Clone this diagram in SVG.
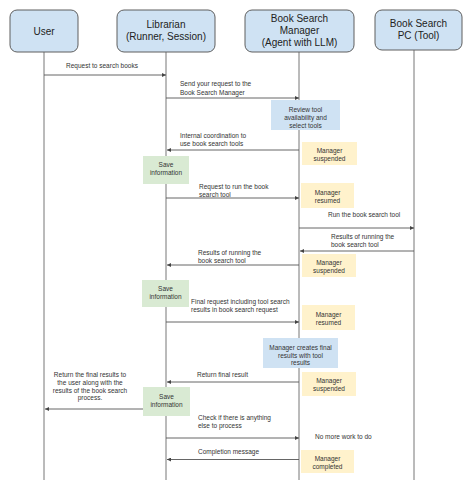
<svg xmlns="http://www.w3.org/2000/svg" width="474" height="493" viewBox="0 0 474 493">
<style>
.hdr{fill:#cfe2f3;stroke:#5f5f5f;stroke-width:1}
.ht{font-family:"Liberation Sans",Arial,sans-serif;font-size:10px;fill:#222;text-anchor:middle}
.t{font-family:"Liberation Sans",Arial,sans-serif;font-size:6.5px;fill:#333}
.c{text-anchor:middle}
.life{stroke:#777;stroke-width:1;fill:none}
.msg{stroke:#555;stroke-width:0.9;fill:none;marker-end:url(#ah)}
.blue{fill:#cfe2f3}
.yel{fill:#fff2cc}
.grn{fill:#d9ead3}
</style>
<defs>
<marker id="ah" markerUnits="userSpaceOnUse" markerWidth="4" markerHeight="4" refX="4" refY="2" orient="auto">
<path d="M0,0 L4,2 L0,4 z" fill="#444"/>
</marker>
</defs>
<rect width="474" height="493" fill="#fff"/>
<g id="lifelines">
<line class="life" x1="44" y1="52" x2="44" y2="480"/>
<line class="life" x1="166" y1="52" x2="166" y2="480"/>
<line class="life" x1="299" y1="52" x2="299" y2="480"/>
<line class="life" x1="414" y1="50" x2="414" y2="480"/>
</g>
<g id="user"><rect class="hdr" x="10" y="10" width="68" height="42" rx="7"/><text class="ht" x="44" y="35">User</text></g>
<g id="librarian"><rect class="hdr" x="117" y="10" width="98" height="42" rx="7"/><text class="ht" x="166" y="28">Librarian</text><text class="ht" x="166" y="40">(Runner, Session)</text></g>
<g id="manager"><rect class="hdr" x="245" y="10" width="109" height="42" rx="7"/><text class="ht" x="299.5" y="22">Book Search</text><text class="ht" x="299.5" y="34">Manager</text><text class="ht" x="299.5" y="46">(Agent with LLM)</text></g>
<g id="tool"><rect class="hdr" x="375" y="10" width="87" height="40" rx="7"/><text class="ht" x="418.5" y="27">Book Search</text><text class="ht" x="418.5" y="39">PC (Tool)</text></g>
<g id="connectors">
<line class="msg" x1="44" y1="75" x2="166" y2="75"/>
<line class="msg" x1="166" y1="98" x2="299" y2="98"/>
<line class="msg" x1="299" y1="150" x2="167" y2="150"/>
<line class="msg" x1="166" y1="198" x2="299" y2="198"/>
<line class="msg" x1="299" y1="228" x2="414" y2="228"/>
<line class="msg" x1="414" y1="251" x2="300" y2="251"/>
<line class="msg" x1="299" y1="265" x2="167" y2="265"/>
<line class="msg" x1="166" y1="322" x2="299" y2="322"/>
<line class="msg" x1="299" y1="382" x2="167" y2="382"/>
<line class="msg" x1="166" y1="409" x2="45" y2="409"/>
<line class="msg" x1="166" y1="438" x2="299" y2="438"/>
<line class="msg" x1="299" y1="459.5" x2="167" y2="459.5"/>
</g>
<g id="labels">
<text class="t" x="66" y="67.5">Request to search books</text>
<text class="t" x="180" y="85.5">Send your request to the</text>
<text class="t" x="180" y="94.5">Book Search Manager</text>
<text class="t" x="180" y="137.5">Internal coordination to</text>
<text class="t" x="180" y="145.5">use book search tools</text>
<text class="t" x="199" y="188.5">Request to run the book</text>
<text class="t" x="199" y="196.5">search tool</text>
<text class="t" x="328" y="216.5">Run the book search tool</text>
<text class="t" x="331" y="239">Results of running the</text>
<text class="t" x="331" y="247">book search tool</text>
<text class="t" x="198" y="254.5">Results of running the</text>
<text class="t" x="198" y="262.5">book search tool</text>
<text class="t" x="191" y="304">Final request including tool search</text>
<text class="t" x="191" y="312">results in book search request</text>
<text class="t" x="197" y="376.5">Return final result</text>
<text class="t c" x="90" y="377">Return the final results to</text>
<text class="t c" x="90" y="385">the user along with the</text>
<text class="t c" x="90" y="392.5">results of the book search</text>
<text class="t c" x="90" y="400">process.</text>
<text class="t" x="198" y="419.8">Check if there is anything</text>
<text class="t" x="198" y="427.8">else to process</text>
<text class="t" x="315" y="439.2">No more work to do</text>
<text class="t" x="198" y="454.2">Completion message</text>
</g>
<g id="review"><rect class="blue" x="271" y="100" width="69" height="30"/><text class="t c" x="305.5" y="111.5">Review tool</text><text class="t c" x="305.5" y="119.5">availability and</text><text class="t c" x="305.5" y="127.5">select tools</text></g>
<g id="susp1"><rect class="yel" x="302" y="142" width="55" height="23"/><text class="t c" x="329.5" y="152.5">Manager</text><text class="t c" x="329.5" y="160.5">suspended</text></g>
<g id="save1"><rect class="grn" x="143" y="156" width="46" height="28"/><text class="t c" x="166" y="167">Save</text><text class="t c" x="166" y="175">information</text></g>
<g id="res1"><rect class="yel" x="301" y="183" width="53" height="25"/><text class="t c" x="327.5" y="194.5">Manager</text><text class="t c" x="327.5" y="202.5">resumed</text></g>
<g id="susp2"><rect class="yel" x="302" y="254" width="54" height="23"/><text class="t c" x="329" y="264.5">Manager</text><text class="t c" x="329" y="272.5">suspended</text></g>
<g id="save2"><rect class="grn" x="142" y="280" width="47" height="27"/><text class="t c" x="165.5" y="290.8">Save</text><text class="t c" x="165.5" y="298.5">information</text></g>
<g id="res2"><rect class="yel" x="302" y="305" width="53" height="25"/><text class="t c" x="328.5" y="316.8">Manager</text><text class="t c" x="328.5" y="324.8">resumed</text></g>
<g id="creates"><rect class="blue" x="263" y="338" width="75" height="30"/><text class="t c" x="300.5" y="349.5">Manager creates final</text><text class="t c" x="300.5" y="357.5">results with tool</text><text class="t c" x="300.5" y="365.2">results</text></g>
<g id="susp3"><rect class="yel" x="302" y="372" width="54" height="24"/><text class="t c" x="329" y="382.5">Manager</text><text class="t c" x="329" y="390.5">suspended</text></g>
<g id="save3"><rect class="grn" x="143" y="387" width="47" height="29"/><text class="t c" x="166.5" y="399.2">Save</text><text class="t c" x="166.5" y="407.2">information</text></g>
<g id="done"><rect class="yel" x="301" y="450" width="53" height="23"/><text class="t c" x="327.5" y="461.2">Manager</text><text class="t c" x="327.5" y="469.2">completed</text></g>
</svg>
